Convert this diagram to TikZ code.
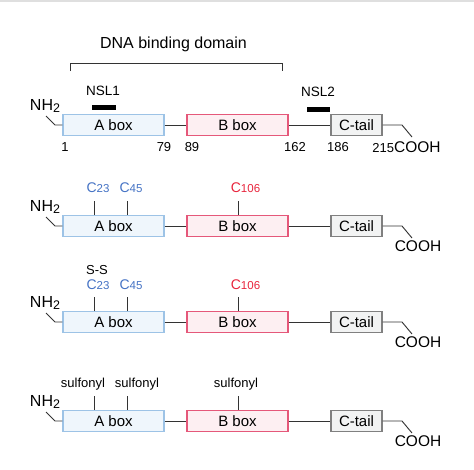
\documentclass[tikz,border=0pt]{standalone}
\usepackage{fontspec}
\setmainfont{Liberation Sans}
\definecolor{aborder}{HTML}{9DC3E6}
\definecolor{afill}{HTML}{EFF6FC}
\definecolor{bborder}{HTML}{E5587A}
\definecolor{bfill}{HTML}{FDEFF2}
\definecolor{cborder}{HTML}{808080}
\definecolor{cfill}{HTML}{F2F3F3}
\definecolor{cysblue}{HTML}{4472C4}
\definecolor{cysred}{HTML}{E8243C}
\definecolor{lncol}{HTML}{333333}
\newcommand{\fs}[1]{\fontsize{#1}{#1}\selectfont}
\newcommand{\cys}[1]{C{\fs{11.5}#1}}
\begin{document}
\begin{tikzpicture}[x=1pt,y=-1pt,
  ln/.style={draw=lncol, line width=0.95pt},
  boxbase/.style={line width=1.2pt, minimum height=21pt, inner sep=0pt, font=\fs{15}},
  abox/.style={boxbase, draw=aborder, fill=afill, minimum width=101pt},
  bbox/.style={boxbase, draw=bborder, fill=bfill, minimum width=101pt},
  cbox/.style={boxbase, draw=cborder, fill=cfill, minimum width=51pt},
  lbl/.style={inner sep=0pt, font=\fs{15}},
  numl/.style={inner sep=0pt, font=\fs{13}},
  smalll/.style={inner sep=0pt, font=\fs{13}},
  bar/.style={line width=5pt, draw=black}]
\useasboundingbox (0,0) rectangle (474,469);
\draw[gray!25, line width=1.5pt] (0,0.75) -- (474,0.75);
% DNA binding domain bracket
\node[inner sep=0pt, font=\fs{16}] (dna) at (173.5,44) {DNA binding domain};
\coordinate (brl) at (70,71);
\coordinate (brr) at (282,71);
\draw[ln] (brl) -- (70,63) -- (282,63) -- (brr);
% NSL bars
\node[smalll, font=\fs{13.5}] (nsl1) at (103,91) {NSL1};
\coordinate (nb1a) at (92,107); \coordinate (nb1b) at (116,107);
\draw[bar] (nb1a) -- (nb1b);
\node[smalll, font=\fs{13.5}] (nsl2) at (318,92) {NSL2};
\coordinate (nb2a) at (307,109); \coordinate (nb2b) at (330,109);
\draw[bar] (nb2a) -- (nb2b);
% common row structure
\foreach \r/\c in {1/125,2/226,3/322,4/421}{
  \node[abox] (A\r) at (113.5,\c) {A box};
  \node[bbox] (B\r) at (237.5,\c) {B box};
  \node[cbox] (C\r) at (356.5,\c) {C-tail};
  \node[inner sep=0pt, font=\fs{16}] (nh\r) at (45,\c-19) {NH\raisebox{-2.5pt}{\fs{12.5}2}};
  \coordinate (ns\r) at (46,\c-9);
  \coordinate (nk\r) at (55,\c);
  \coordinate (ce\r) at (402,\c);
  \coordinate (cf\r) at (412,\c+12);
  \draw[ln] (ns\r) -- (nk\r) -- (A\r.west);
  \draw[ln] (A\r.east) -- (B\r.west);
  \draw[ln] (B\r.east) -- (C\r.west);
  \draw[ln] (C\r.east) -- (ce\r) -- (cf\r);
}
% row 1 numbers
\node[numl] (n1) at (65,147) {1};
\node[numl] (n79) at (164,147) {79};
\node[numl] (n89) at (192,147) {89};
\node[numl] (n162) at (295,147) {162};
\node[numl] (n186) at (338,147) {186};
\node[inner sep=0pt, font=\fs{15.5}] (co1) at (406.5,147) {{\fs{13}215}COOH};
% COOH rows 2-4
\foreach \r/\c in {2/226,3/322,4/421}{
  \node[inner sep=0pt, font=\fs{15.5}] (co\r) at (418,\c+20) {COOH};
  \coordinate (ta\r) at (94,\c-25);
  \coordinate (tb\r) at (127,\c-25);
  \coordinate (tc\r) at (238,\c-25);
  \draw[ln] (ta\r) -- (ta\r |- A\r.north);
  \draw[ln] (tb\r) -- (tb\r |- A\r.north);
  \draw[ln] (tc\r) -- (tc\r |- B\r.north);
}
% row 2 labels
\node[inner sep=0pt, font=\fs{14}, text=cysblue] (c23a) at (98,188) {\cys{23}};
\node[inner sep=0pt, font=\fs{14}, text=cysblue] (c45a) at (131,188) {\cys{45}};
\node[inner sep=0pt, font=\fs{14}, text=cysred] (c106a) at (245.5,188) {\cys{106}};
% row 3 labels
\node[inner sep=0pt, font=\fs{13}] (ss) at (97,270) {S-S};
\node[inner sep=0pt, font=\fs{14}, text=cysblue] (c23b) at (98,285) {\cys{23}};
\node[inner sep=0pt, font=\fs{14}, text=cysblue] (c45b) at (131,285) {\cys{45}};
\node[inner sep=0pt, font=\fs{14}, text=cysred] (c106b) at (245.5,285) {\cys{106}};
% row 4 labels
\node[smalll] (s1) at (83,384) {sulfonyl};
\node[smalll] (s2) at (137,384) {sulfonyl};
\node[smalll] (s3) at (236,384) {sulfonyl};
\end{tikzpicture}
\end{document}
